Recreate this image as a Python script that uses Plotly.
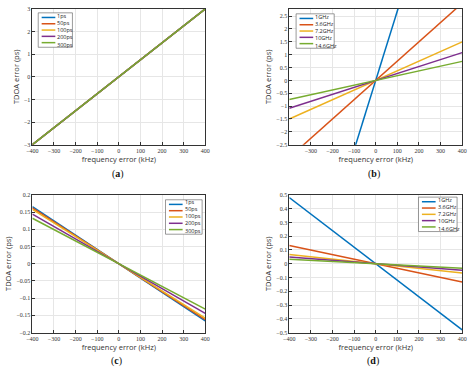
import plotly.graph_objects as go

# ---- data ----
x_ends = [-400, 400]  # kHz

# (a) TDOA error vs frequency error for different delays
a_names = ["1ps", "50ps", "100ps", "200ps", "300ps"]
a_y = [[-3.0, 3.0], [-3.0, 3.0], [-3.0, 3.0], [-3.0, 3.0], [-3.0, 3.0]]

# (b) different carrier frequencies
b_names = ["1GHz", "3.6GHz", "7.2GHz", "10GHz", "14.6GHz"]
b_y = [[-10.8, 10.8], [-3.0, 3.0], [-1.5, 1.5], [-1.08, 1.08], [-0.74, 0.74]]

# (c)
c_names = ["1ps", "50ps", "100ps", "200ps", "300ps"]
c_y = [[0.166, -0.166], [0.162, -0.162], [0.158, -0.158], [0.144, -0.144], [0.132, -0.132]]

# (d)
d_names = ["1GHz", "3.6GHz", "7.2GHz", "10GHz", "14.6GHz"]
d_y = [[0.48, -0.48], [0.133, -0.133], [0.067, -0.067], [0.048, -0.048], [0.033, -0.033]]

colors = ["#0072BD", "#D95319", "#EDB120", "#7E2F8E", "#77AC30"]

W, H = 474, 372
fig = go.Figure()

panels = [
    (a_names, a_y, "x", "y"),
    (b_names, b_y, "x2", "y2"),
    (c_names, c_y, "x3", "y3"),
    (d_names, d_y, "x4", "y4"),
]
for names, ys, xa, ya in panels:
    for i, (n, yv) in enumerate(zip(names, ys)):
        fig.add_trace(go.Scatter(x=x_ends, y=yv, mode="lines", name=n,
                                 line=dict(color=colors[i], width=1.5),
                                 xaxis=xa, yaxis=ya, showlegend=False))

def px_x(p):
    return p / W

def px_y(p):
    return 1 - p / H

tickfont = dict(family="Liberation Serif, Times New Roman, serif", size=6, color="#333")
titlefont = dict(family="Open Sans, sans-serif", size=7.5, color="#333")

def xaxis(dom, anchor, tickvals):
    return dict(domain=dom, anchor=anchor, range=[-400, 400], tickvals=tickvals,
                showgrid=True, gridcolor="#e6e6e6", gridwidth=0.6, zeroline=False,
                showline=True, linecolor="#333", linewidth=0.7, mirror=True,
                ticks="inside", ticklen=2.5, tickcolor="#333", tickwidth=0.6,
                tickfont=tickfont,
                title=dict(text="frequency error (kHz)", font=titlefont, standoff=2))

def yaxis(dom, anchor, rng, tickvals):
    return dict(domain=dom, anchor=anchor, range=rng, tickvals=tickvals,
                showgrid=True, gridcolor="#e6e6e6", gridwidth=0.6, zeroline=False,
                showline=True, linecolor="#333", linewidth=0.7, mirror=True,
                ticks="inside", ticklen=2.5, tickcolor="#333", tickwidth=0.6,
                tickfont=tickfont,
                title=dict(text="TDOA error (ps)", font=titlefont, standoff=3))

xl = [px_x(27), px_x(204)]
xr = [px_x(290), px_x(467)]
yt = [px_y(144), px_y(6)]
yb = [px_y(335), px_y(195)]

xt_full = list(range(-400, 401, 100))
xt_b = list(range(-300, 401, 100))

fig.update_layout(
    xaxis=xaxis(xl, "y", xt_full),
    yaxis=yaxis(yt, "x", [-3, 3], [-3, -2, -1, 0, 1, 2, 3]),
    xaxis2=xaxis(xr, "y2", xt_b),
    yaxis2=yaxis(yt, "x2", [-2.5, 2.78], [-2.5, -2, -1.5, -1, -0.5, 0, 0.5, 1, 1.5, 2, 2.5]),
    xaxis3=xaxis(xl, "y3", xt_full),
    yaxis3=yaxis(yb, "x3", [-0.2, 0.2], [-0.2, -0.15, -0.1, -0.05, 0, 0.05, 0.1, 0.15, 0.2]),
    xaxis4=xaxis(xr, "y4", xt_full),
    yaxis4=yaxis(yb, "x4", [-0.5, 0.5], [round(-0.5 + 0.1 * k, 1) for k in range(11)]),
)

# ---- compact MATLAB-style legends (layout only) ----
LFS = 5.5
STEP = 6.4
legfont = dict(family="Open Sans, sans-serif", size=LFS, color="#222")
shapes = []
annotations = []

def add_legend(names, left, top, width, height):
    shapes.append(dict(type="rect", xref="paper", yref="paper",
                       x0=px_x(left), x1=px_x(left + width),
                       y0=px_y(top + height), y1=px_y(top),
                       line=dict(color="#555", width=0.6), fillcolor="white", layer="above"))
    yc0 = top + height / 2
    n = len(names)
    for i, nm in enumerate(names):
        yc = yc0 + (i - (n - 1) / 2) * STEP
        shapes.append(dict(type="line", xref="paper", yref="paper",
                           x0=px_x(left + 3.5), x1=px_x(left + 17.5),
                           y0=px_y(yc), y1=px_y(yc),
                           line=dict(color=colors[i], width=1.5), layer="above"))
    annotations.append(dict(text="<br>".join(names), x=px_x(left + 18.5), y=px_y(yc0),
                            xref="paper", yref="paper", showarrow=False, borderpad=0,
                            align="left", xanchor="left", yanchor="middle",
                            font=legfont))

add_legend(a_names, 33, 10, 35, 35)
add_legend(b_names, 297, 11, 39, 35)
add_legend(c_names, 163.3, 200, 37.5, 35)
add_legend(d_names, 422.3, 197.3, 39.5, 35)

labfont = dict(family="Liberation Serif, Times New Roman, serif", size=10, color="#111")
for txt, xp, yp in [("(<b>a</b>)", 115, 174), ("(<b>b</b>)", 377, 174),
                    ("(<b>c</b>)", 113, 364), ("(<b>d</b>)", 376, 364)]:
    annotations.append(dict(text=txt, x=px_x(xp), y=px_y(yp), xref="paper", yref="paper",
                            showarrow=False, font=labfont, xanchor="center", yanchor="middle"))

fig.update_layout(shapes=shapes, annotations=annotations)
fig.update_layout(width=W, height=H, margin=dict(l=0, r=0, t=0, b=0),
                  paper_bgcolor="white", plot_bgcolor="white", showlegend=False)

fig.write_html("out.html", config={"displayModeBar": False},
               post_script="document.body.style.margin='0';document.body.style.overflow='hidden';")
